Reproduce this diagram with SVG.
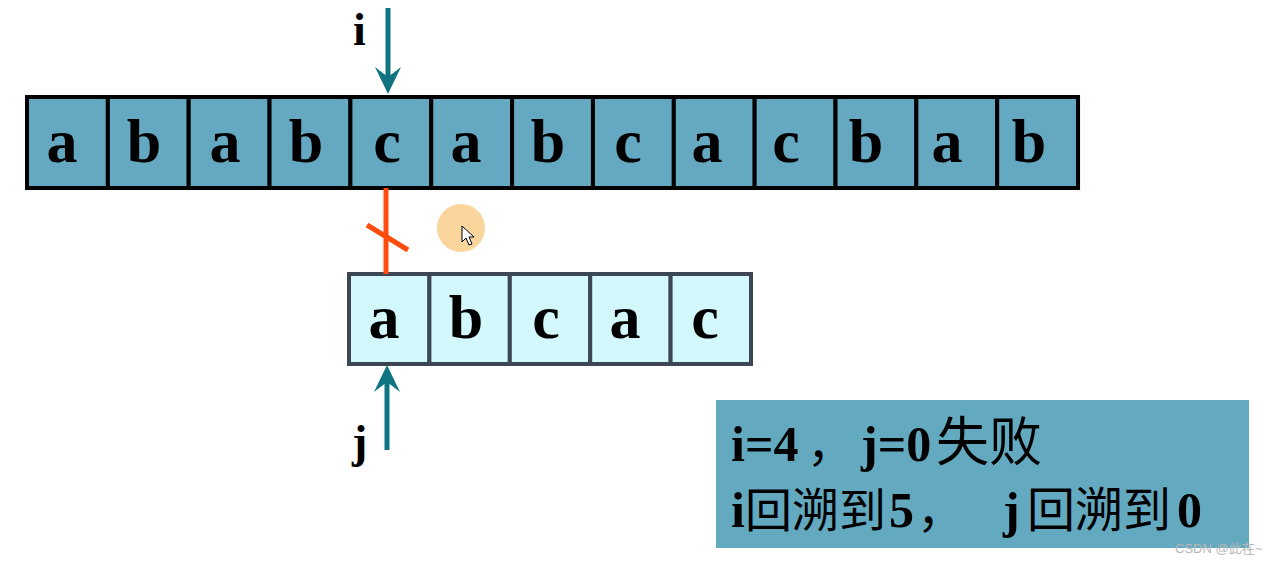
<svg xmlns="http://www.w3.org/2000/svg" width="1273" height="564" viewBox="0 0 1273 564">
<style>
.top{fill:#64a9c1;stroke:#000;stroke-width:4}
.bot{fill:#d3f8fc;stroke:#3d4753;stroke-width:4}
.ch{font-family:"Liberation Serif","Times New Roman",serif;font-weight:bold;font-size:62px;fill:#000;text-anchor:middle}
.lbl{font-family:"Liberation Serif","Times New Roman",serif;font-weight:bold;font-size:46px;fill:#000}
.lat{font-family:"Liberation Serif","Times New Roman",serif;font-weight:bold;font-size:50px;fill:#000}
.cjk{font-family:"Noto Sans CJK SC",sans-serif;font-weight:normal;font-size:47px;fill:#000}
.arrow{stroke:#0f7480;stroke-width:5;fill:none}
.head{fill:#0f7480}
.red{stroke:#ff4d0f;stroke-width:5}
</style>
<rect width="1273" height="564" fill="#fff"/>
<g id="main-string">
<g id="s0"><rect class="top" x="27" y="97" width="80.85" height="91"/><text class="ch" x="62" y="162">a</text></g>
<g id="s1"><rect class="top" x="107.85" y="97" width="80.85" height="91"/><text class="ch" x="144" y="162">b</text></g>
<g id="s2"><rect class="top" x="188.7" y="97" width="80.85" height="91"/><text class="ch" x="225" y="162">a</text></g>
<g id="s3"><rect class="top" x="269.55" y="97" width="80.85" height="91"/><text class="ch" x="306" y="162">b</text></g>
<g id="s4"><rect class="top" x="350.4" y="97" width="80.85" height="91"/><text class="ch" x="387" y="162">c</text></g>
<g id="s5"><rect class="top" x="431.25" y="97" width="80.85" height="91"/><text class="ch" x="466" y="162">a</text></g>
<g id="s6"><rect class="top" x="512.1" y="97" width="80.85" height="91"/><text class="ch" x="548" y="162">b</text></g>
<g id="s7"><rect class="top" x="592.95" y="97" width="80.85" height="91"/><text class="ch" x="628" y="162">c</text></g>
<g id="s8"><rect class="top" x="673.8" y="97" width="80.85" height="91"/><text class="ch" x="707" y="162">a</text></g>
<g id="s9"><rect class="top" x="754.65" y="97" width="80.85" height="91"/><text class="ch" x="786" y="162">c</text></g>
<g id="s10"><rect class="top" x="835.5" y="97" width="80.85" height="91"/><text class="ch" x="866" y="162">b</text></g>
<g id="s11"><rect class="top" x="916.35" y="97" width="80.85" height="91"/><text class="ch" x="947" y="162">a</text></g>
<g id="s12"><rect class="top" x="997.2" y="97" width="80.85" height="91"/><text class="ch" x="1029" y="162">b</text></g>
</g>
<g id="pattern">
<g id="p0"><rect class="bot" x="349" y="274" width="80.4" height="90"/><text class="ch" x="384" y="338">a</text></g>
<g id="p1"><rect class="bot" x="429.4" y="274" width="80.4" height="90"/><text class="ch" x="466" y="338">b</text></g>
<g id="p2"><rect class="bot" x="509.8" y="274" width="80.4" height="90"/><text class="ch" x="546" y="338">c</text></g>
<g id="p3"><rect class="bot" x="590.2" y="274" width="80.4" height="90"/><text class="ch" x="625" y="338">a</text></g>
<g id="p4"><rect class="bot" x="670.6" y="274" width="80.4" height="90"/><text class="ch" x="705" y="338">c</text></g>
</g>
<g id="label-i"><text class="lbl" x="353" y="45">i</text></g>
<g id="label-j"><text class="lbl" x="352" y="457">j</text></g>
<g id="connectors">
<line class="arrow" x1="388" y1="8" x2="388" y2="80"/>
<polygon class="head" points="388,94 375,67 388,77 401,67"/>
<line class="arrow" x1="387" y1="450" x2="387" y2="380"/>
<polygon class="head" points="387,365 374,392 387,382 400,392"/>
<line class="red" x1="386" y1="188" x2="386" y2="274"/>
<line class="red" x1="367" y1="225" x2="408" y2="250"/>
</g>
<g id="cursor">
<circle cx="461" cy="228" r="24" fill="#fad59c"/>
<path d="M462,226 L462,242 L466,238 L469,245 L472,244 L469,237 L474,237 Z" fill="#fff" stroke="#000" stroke-width="1"/>
</g>
<g id="info-box">
<rect x="716" y="400" width="533" height="148" fill="#63a9c0"/>
<text y="461"><tspan class="lat" x="731">i=4</tspan><tspan class="cjk" x="807">，</tspan><tspan class="lat" x="861">j=0</tspan><tspan class="cjk" x="936" style="font-size:53px">失败</tspan></text>
<text y="527"><tspan class="lat" x="731">i</tspan><tspan class="cjk" x="745">回溯到</tspan><tspan class="lat" x="889">5</tspan><tspan class="cjk" x="917">，</tspan><tspan class="lat" x="1003">j</tspan><tspan class="cjk" x="1027" style="font-size:48px">回溯到</tspan><tspan class="lat" x="1177">0</tspan></text>
</g>
<text x="1175" y="553" font-family="Liberation Sans, Noto Sans CJK SC, sans-serif" font-size="13" fill="#b8b8b8">CSDN @此在~</text>
</svg>
